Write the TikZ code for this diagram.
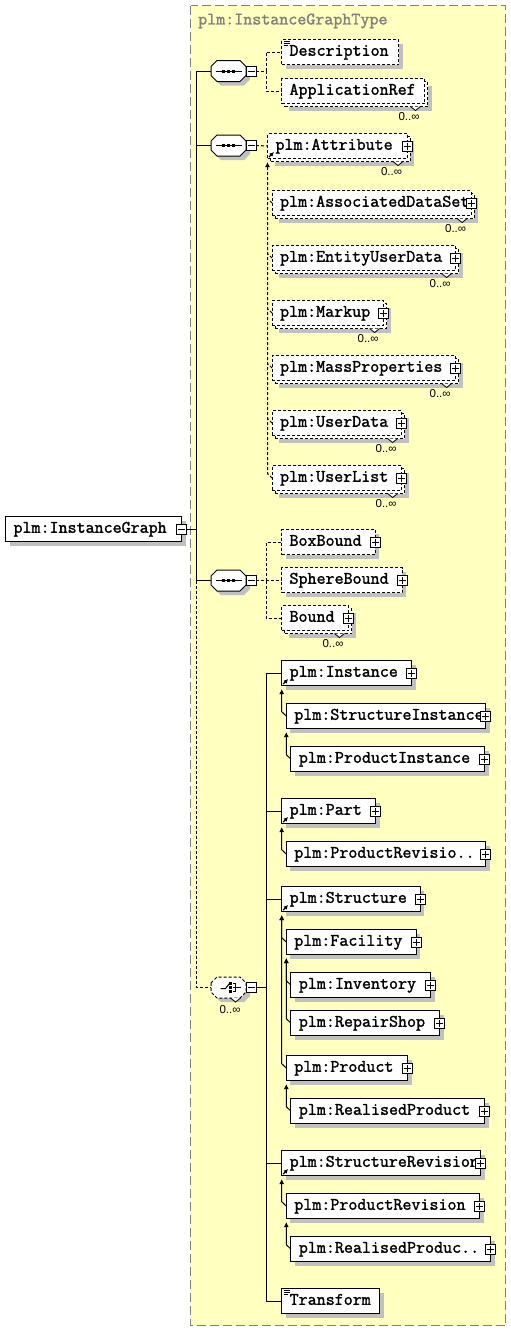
\documentclass[tikz,border=0pt]{standalone}
\usepackage{fontspec}
\usetikzlibrary{arrows.meta,positioning,shadows,calc}
\newfontfamily\cardfont{Liberation Sans}
\newfontfamily\plmfont[FakeBold=1.6]{Latin Modern Mono}
\definecolor{schemayellow}{RGB}{255,255,192}
\definecolor{schemagray}{RGB}{128,128,128}
\definecolor{shadowgray}{RGB}{192,192,192}
\tikzset{
  elemshadow/.style={drop shadow={shadow xshift=4pt,shadow yshift=-4pt,fill=shadowgray,draw=none,opacity=1}},
  typebox/.style={draw=black,fill=white,rectangle,anchor=north west,line width=1pt,minimum height=25pt,outer sep=0pt,
    inner xsep=8pt,inner ysep=0pt,text height=11pt,text depth=3.5pt,
    font=\plmfont\fontsize{17.5}{17.5}\selectfont},
  optbox/.style={typebox,dash pattern=on 3pt off 2pt},
  seqbox/.style={minimum width=35pt,minimum height=21pt,inner sep=0pt,outer sep=0pt},
  seqoutline/.style={draw=black,fill=white,line width=1pt,elemshadow},
  plusbox/.style={draw=black,fill=white,rectangle,minimum size=10pt,inner sep=0pt,outer sep=0pt,line width=1pt,
    path picture={\draw ([xshift=1.5pt]path picture bounding box.west) -- ([xshift=-1.5pt]path picture bounding box.east);
      \draw ([yshift=-1.5pt]path picture bounding box.north) -- ([yshift=1.5pt]path picture bounding box.south);}},
  minusbox/.style={draw=black,fill=white,rectangle,minimum size=10pt,inner sep=0pt,outer sep=0pt,line width=1pt,
    path picture={\draw ([xshift=1.5pt]path picture bounding box.west) -- ([xshift=-1.5pt]path picture bounding box.east);}},
  conn/.style={draw=black,line width=1pt},
  optline/.style={conn,dash pattern=on 3pt off 2pt},
  inherit/.style={-{Latex[length=5pt,width=5pt]}},
  cardlabel/.style={inner sep=0pt,font=\cardfont\fontsize{11.5}{12}\selectfont},
}

\begin{document}
\begin{tikzpicture}[x=1pt,y=-1pt]
  \useasboundingbox (0,0) rectangle (511,1331);
  % Type area
  \draw[fill=schemayellow,draw=schemagray,line width=1pt,dash pattern=on 9pt off 4pt] (190.5,5.5) rectangle (505.5,1325.5);
  \node[anchor=west,inner sep=0pt,text=schemagray,font=\plmfont\fontsize{17.5}{17.5}\selectfont] (typeName) at (198,21) {plm:InstanceGraphType};
  % Root element
  \node[typebox,elemshadow] (root) at (5.5,516.5) {\makebox[160pt][l]{plm:InstanceGraph}};
  \node[minusbox] (root-minus) at (root.east) {};
  % Compositors
  \foreach \id/\y in {seqA/71,seqB/145.5,seqC/580.5}{
    \node[seqbox] (\id) at (228.5,\y) {};
    \draw[seqoutline,shift={(\id.center)}] (-17.5,-4.5) -- (-11.5,-10.5) -- (11.5,-10.5) -- (17.5,-4.5) -- (17.5,4.5) -- (11.5,10.5) -- (-11.5,10.5) -- (-17.5,4.5) -- cycle;
    \node[minusbox,anchor=west] (\id-minus) at (\id.east) {};
    \draw[line width=1pt,shift={(\id.center)}] (-13,0) -- (13,0);
    \foreach \d in {-5,0,5}
      \fill[shift={(\id.center)}] (\d-1.5,-1.5) rectangle ++(3,3);
  }
  \node[seqbox] (choice) at (228.5,987.5) {};
  \draw[seqoutline,dash pattern=on 3pt off 2pt,shift={(choice.center)}] (-17.5,-4.5) -- (-11.5,-10.5) -- (11.5,-10.5) -- (17.5,-4.5) -- (17.5,4.5) -- (11.5,10.5) -- (-11.5,10.5) -- (-17.5,4.5) -- cycle;
  \node[minusbox,anchor=west] (choice-minus) at (choice.east) {};
  \draw[line width=1pt,shift={(choice.center)}] (-8,1) -- (-3,1) -- (1,-4);
  \draw[line width=1pt,shift={(choice.center)}] (4,-4) -- (7,-4) -- (7,4) -- (4,4) (4,0) -- (12,0);
  \foreach \d in {-4,0,4}
    \fill[shift={(choice.center)}] (0,\d-1.5) rectangle ++(3,3);
  \draw[line width=.8pt,fill=white] ($(choice.south)+(2,0)$) -- ++(5,4) -- ++(5,-4);
  \node[cardlabel] (choice-card) at (230,1010) {0..∞};
  % Optional elements
  \foreach \id/\txt/\x/\y/\w in {desc/Description/281.5/39.5/117,boxBound/BoxBound/281.5/529.5/93.5,sphereBound/SphereBound/281.5/567.5/120.5}{
    \node[optbox,elemshadow] (\id) at (\x,\y) {\makebox[\dimexpr\w pt-16pt\relax][l]{\txt}};
  }
  % Optional elements, repeated
  \foreach \id/\txt/\x/\y/\w in {appRef/ApplicationRef/281.5/78.5/143,attribute/plm:Attribute/267.5/133.5/139.5,dataSet/plm:AssociatedDataSet/272.1/190.5/199,entityData/plm:EntityUserData/272.1/245.5/183.5,markup/plm:Markup/272.1/300.5/111.5,massProps/plm:MassProperties/272.1/355.5/183.5,userData/plm:UserData/272.1/410.5/129.5,userList/plm:UserList/272.1/465.5/129.5,bound/Bound/281.5/605.5/67}{
    \node[optbox,elemshadow,minimum width=\w pt] (\id-back) at (\x+3,\y+3) {};
    \node[optbox] (\id) at (\x,\y) {\makebox[\dimexpr\w pt-16pt\relax][l]{\txt}};
    \draw[line width=.8pt,fill=white] ($(\id-back.south east)+(-17,0)$) -- ++(5,4) -- ++(5,-4);
    \node[cardlabel] (\id-card) at ($(\id-back.south east)+(-18.5,10.5)$) {0..∞};
  }
  % Global elements
  \foreach \id/\txt/\x/\y/\w in {instance/plm:Instance/281.7/660.5/130,structInst/plm:StructureInstance/286.3/703.5/199.4,prodInst/plm:ProductInstance/290.9/746.5/194,part/plm:Part/281.7/798.5/94,prodRevisio/plm:ProductRevisio../286.3/841.5/199.4,structure/plm:Structure/281.7/886.5/138.5,facility/plm:Facility/286.3/929.5/130,inventory/plm:Inventory/290.9/972.5/139.7,repairShop/plm:RepairShop/290.9/1010.5/148.7,product/plm:Product/286.3/1055.5/121.4,realised/plm:RealisedProduct/290.9/1098.5/194,structRev/plm:StructureRevision/281.7/1150.5/199,prodRev/plm:ProductRevision/286.3/1193.5/193.4,realisedProduc/plm:RealisedProduc../290.9/1236.5/199.7,transform/Transform/281.7/1288.5/98}{
    \node[typebox,elemshadow] (\id) at (\x,\y) {\makebox[\dimexpr\w pt-16pt\relax][l]{\txt}};
  }
  % Expanders
  \foreach \id in {attribute,dataSet,entityData,markup,massProps,userData,userList,boxBound,sphereBound,bound,instance,structInst,prodInst,part,prodRevisio,structure,facility,inventory,repairShop,product,realised,structRev,prodRev,realisedProduc}{
    \node[plusbox] (\id-plus) at ($(\id.east)+(0,.5)$) {};
  }
  % Reference and text marks
  \foreach \id in {attribute,instance,part,structure,structRev}{
    \draw[line width=1.2pt,-{Latex[length=4.5pt,width=4.5pt]}] ($(\id.south west)+(1.5,-1.5)$) -- ++(5,-5);
  }
  \foreach \id in {desc,transform}{
    \draw[line width=.8pt,shift={(\id.north west)}] (2,2) -- (8,2) (2,4) -- (8,4) (2,6) -- (6,6);
  }
  % Connectors
  \coordinate (rootBus) at (196.5,529);
  \coordinate (choiceBus) at (266.7,987.5);
  \foreach \to in {seqA,seqB,seqC}
    \draw[conn] (root-minus.east) -- (rootBus) |- (\to.west);
  \draw[optline] (rootBus |- seqC.west) |- (choice.west);
  \foreach \to in {desc,appRef}
    \draw[optline] (seqA-minus.east) -- ++(10,0) |- (\to.west);
  \draw[optline] (seqB-minus.east) -- (attribute.west);
  \foreach \to in {boxBound,sphereBound,bound}
    \draw[optline] (seqC-minus.east) -- ++(10,0) |- (\to.west);
  \foreach \to in {instance,part,structure,structRev,transform}
    \draw[conn] (choice-minus.east) -- (choiceBus) |- (\to.west);
  % Substitution groups
  \foreach \sub in {dataSet,entityData,markup,massProps,userData}
    \draw[optline] (\sub.west) -- ++(-4.6,-4.3);
  \draw[optline,inherit] (userList.west) -- ++(-4.6,-4.3) -- ($(attribute.south west)+(0,3.5)$);
  \foreach \sub/\head in {structInst/instance,prodInst/structInst,prodRevisio/part,facility/structure,product/structure,inventory/facility,repairShop/facility,realised/product,prodRev/structRev,realisedProduc/prodRev}
    \draw[conn,inherit] (\sub.west) -- ++(-4.6,-4.3) -- ($(\head.south west)+(0,3.5)$);
\end{tikzpicture}
\end{document}
